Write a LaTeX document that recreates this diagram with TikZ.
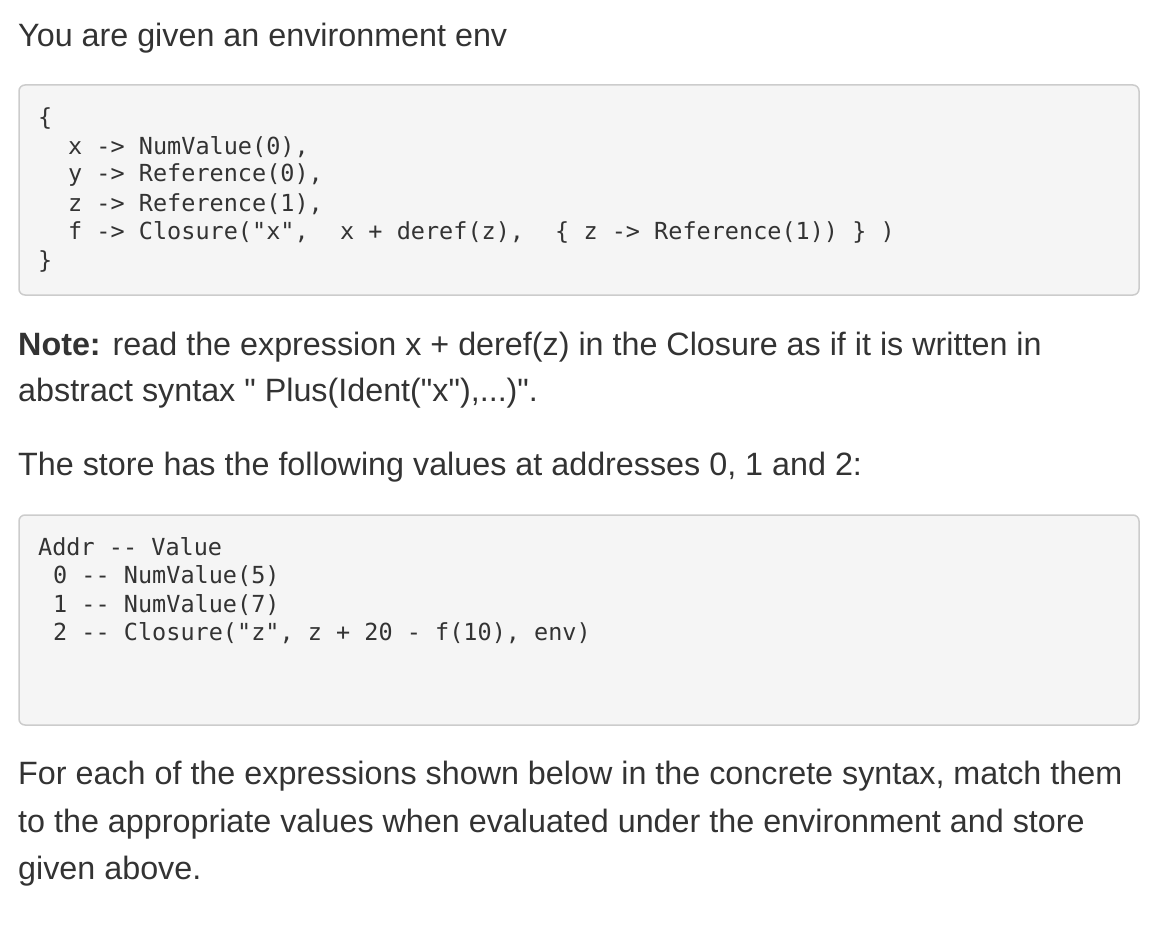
\documentclass[tikz,border=0pt]{standalone}
\usepackage{fontspec}
\setmainfont{Liberation Sans}
\setmonofont{DejaVu Sans Mono}
\newfontfamily\plainsans{Liberation Sans}
\definecolor{txt}{HTML}{333333}
\definecolor{boxfill}{HTML}{F5F5F5}
\definecolor{boxline}{HTML}{CCCCCC}
\begin{document}
\begin{tikzpicture}[x=1pt,y=-1pt,
  body/.style={anchor=west,inner sep=0pt,text=txt,font=\fontsize{32.3}{33}\selectfont},
  code/.style={anchor=west,inner sep=0pt,text=txt,font=\fontsize{23.5}{24}\ttfamily},
  codebox/.style={draw=boxline,fill=boxfill,line width=1.5pt,rounded corners=6pt}]
\useasboundingbox (0,0) rectangle (1162,928);
\node[body] (t1) at (18,38) {You are given an environment env};
\draw[codebox] (19,85) rectangle (1139,295);
\node[code] (c0) at (38,118) {\{};
\node[code] (c1) at (68,147) {x -> NumValue(0),};
\node[code] (c2) at (68,175) {y -> Reference(0),};
\node[code] (c3) at (68,204) {z -> Reference(1),};
\node[code] (c4a) at (68,232) {f -> Closure("x",};
\node[code] (c4b) at (340,232) {x + deref(z),};
\node[code] (c4c) at (555,232) {\{ z -> Reference(1)) \} )};
\node[code] (c5) at (38,261) {\}};
\node[body] (n1) at (18,347) {\textbf{Note:} read the expression x + deref(z) in the Closure as if it is written in};
\node[body] (n2) at (18,393) {\plainsans abstract syntax " Plus(Ident("x"),...)".};
\node[body] (s1) at (18,467) {The store has the following values at addresses 0, 1 and 2:};
\draw[codebox] (19,515) rectangle (1139,725);
\node[code] (d0) at (38,547) {Addr -- Value};
\node[code] (d1) at (53,576) {0 -- NumValue(5)};
\node[code] (d2) at (53,605) {1 -- NumValue(7)};
\node[code] (d3) at (53,633) {2 -- Closure("z", z + 20 - f(10), env)};
\node[body] (f1) at (18,776) {For each of the expressions shown below in the concrete syntax, match them};
\node[body] (f2) at (18,824) {to the appropriate values when evaluated under the environment and store};
\node[body] (f3) at (18,871) {given above.};
\end{tikzpicture}
\end{document}
